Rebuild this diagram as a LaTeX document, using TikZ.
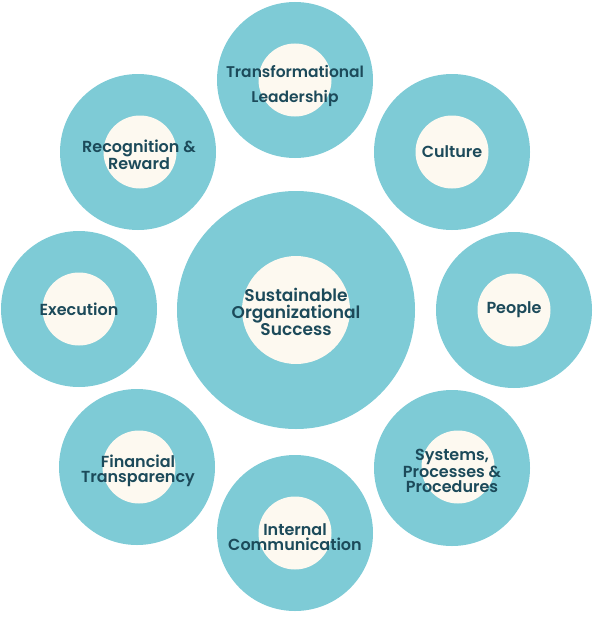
\documentclass[tikz,border=0pt]{standalone}
\usepackage{fontspec}
\setmainfont{Poppins}[BoldFont={Poppins SemiBold}]
\definecolor{ringteal}{HTML}{7ECBD6}
\definecolor{cream}{HTML}{FDF9F0}
\definecolor{inkteal}{HTML}{1C4A5A}

\begin{document}
\begin{tikzpicture}[x=1pt,y=-1pt,
  ring/.style={circle, fill=ringteal, minimum size=156pt, inner sep=0pt},
  hole/.style={circle, fill=cream, minimum size=73pt, inner sep=0pt},
  tag/.style={align=center, text=inkteal, inner sep=0pt,
    font=\bfseries\fontsize{16}{15.5}\selectfont}]
\useasboundingbox (0,0) rectangle (600,626);
% centre
\node[ring, minimum size=238pt] at (296,310) (hub) {};
\node[hole, minimum size=108pt] at (hub) (hubc) {};
\node[tag, font=\bfseries\fontsize{17}{16.5}\selectfont] at (296,312) (hubt) {Sustainable\\Organizational\\Success};
% outer ring
\node[ring] at (295,80) (tl) {};
\node[hole] at (tl) (tlc) {};
\node[tag, font=\bfseries\fontsize{15.5}{15.5}\selectfont] at (295,86) (tlt) {Transformational\\[9pt]Leadership};
\node[ring] at (452,152) (cu) {};
\node[hole] at (cu) (cuc) {};
\node[tag] at (452,152) (cut) {Culture};
\node[ring] at (514,310) (pe) {};
\node[hole] at (pe) (pec) {};
\node[tag] at (514,310) (pet) {People};
\node[ring] at (452,468) (sy) {};
\node[hole] at (458,467) (syc) {};
\node[tag] at (452,471) (syt) {Systems,\\Processes \&\\Procedures};
\node[ring] at (295,533) (ic) {};
\node[hole] at (ic) (icc) {};
\node[tag] at (295,537) (ict) {Internal\\Communication};
\node[ring] at (137,467) (ft) {};
\node[hole] at (139,467) (ftc) {};
\node[tag] at (138,471) (ftt) {Financial\\Transparency};
\node[ring] at (79,309) (ex) {};
\node[hole] at (ex) (exc) {};
\node[tag] at (79,309) (ext) {Execution};
\node[ring] at (138,152) (rr) {};
\node[hole] at (140,152) (rrc) {};
\node[tag] at (139,155) (rrt) {Recognition \&\\Reward};
\end{tikzpicture}
\end{document}
